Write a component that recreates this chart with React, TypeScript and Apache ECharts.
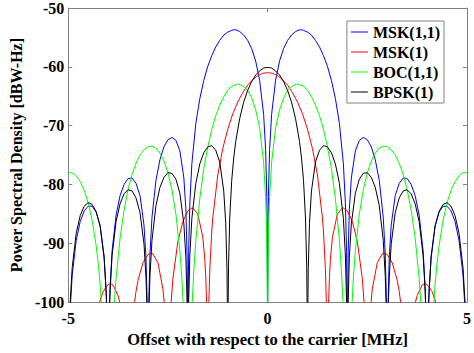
import React, { useEffect, useRef } from "react";
import * as echarts from "echarts";

const seriesNames = ["MSK(1,1)", "MSK(1)", "BOC(1,1)", "BPSK(1)"];
const seriesColors = ["#0000ff", "#ff0000", "#00ff00", "#000000"];
const xTitle = "Offset with respect to the carrier [MHz]";
const yTitle = "Power Spectral Density [dBW-Hz]";

// [offset MHz, PSD dBW-Hz]; -130 marks a null below the plotted range
const msk11: [number, number][] = [
  [-5, -130], [-4.94, -100], [-4.9, -95.4], [-4.8, -89.5], [-4.7, -86.3], [-4.6, -84.5], [-4.5, -83.7], [-4.4, -83.7], [-4.3, -84.7], [-4.2, -87.0], [-4.1, -92.2], [-4.05, -97.9], [-4.039, -100], [-4, -130],
  [-3.962, -100], [-3.95, -97.4], [-3.9, -91.3], [-3.8, -85.2], [-3.7, -81.9], [-3.6, -80.0], [-3.5, -79.0], [-3.4, -78.9], [-3.3, -79.8], [-3.2, -81.9], [-3.1, -86.9], [-3.05, -92.5], [-3.021, -100], [-3, -130],
  [-2.98, -100], [-2.95, -91.8], [-2.9, -85.6], [-2.8, -79.3], [-2.7, -75.8], [-2.6, -73.6], [-2.5, -72.4], [-2.4, -72.0], [-2.3, -72.5], [-2.2, -74.3], [-2.1, -78.9], [-2.05, -84.2], [-2.02, -91.8], [-2.008, -100], [-2, -130],
  [-1.992, -100], [-1.98, -91.4], [-1.95, -83.1], [-1.9, -76.5], [-1.8, -69.6], [-1.7, -65.4], [-1.6, -62.3], [-1.5, -59.9], [-1.4, -58.1], [-1.3, -56.6], [-1.2, -55.5], [-1.1, -54.6], [-1.0, -54.1], [-0.9, -53.8], [-0.85, -53.7], [-0.8, -53.7], [-0.7, -54.0], [-0.6, -54.6], [-0.5, -55.5], [-0.4, -56.9], [-0.3, -59.0], [-0.2, -62.3], [-0.1, -68.1], [-0.05, -74.1], [-0.02, -82.0], [-0.01, -88.1], [-0.003, -100],
  [0, -130],
  [0.003, -100], [0.01, -88.1], [0.02, -82.0], [0.05, -74.1], [0.1, -68.1], [0.2, -62.3], [0.3, -59.0], [0.4, -56.9], [0.5, -55.5], [0.6, -54.6], [0.7, -54.0], [0.8, -53.7], [0.85, -53.7], [0.9, -53.8], [1.0, -54.1], [1.1, -54.6], [1.2, -55.5], [1.3, -56.6], [1.4, -58.1], [1.5, -59.9], [1.6, -62.3], [1.7, -65.4], [1.8, -69.6], [1.9, -76.5], [1.95, -83.1], [1.98, -91.4], [1.992, -100],
  [2, -130], [2.008, -100], [2.02, -91.8], [2.05, -84.2], [2.1, -78.9], [2.2, -74.3], [2.3, -72.5], [2.4, -72.0], [2.5, -72.4], [2.6, -73.6], [2.7, -75.8], [2.8, -79.3], [2.9, -85.6], [2.95, -91.8], [2.98, -100],
  [3, -130], [3.021, -100], [3.05, -92.5], [3.1, -86.9], [3.2, -81.9], [3.3, -79.8], [3.4, -78.9], [3.5, -79.0], [3.6, -80.0], [3.7, -81.9], [3.8, -85.2], [3.9, -91.3], [3.95, -97.4], [3.962, -100],
  [4, -130], [4.039, -100], [4.05, -97.9], [4.1, -92.2], [4.2, -87.0], [4.3, -84.7], [4.4, -83.7], [4.5, -83.7], [4.6, -84.5], [4.7, -86.3], [4.8, -89.5], [4.9, -95.4], [4.94, -100], [5, -130],
];

const msk1: [number, number][] = [
  [-5, -100.9], [-4.5, -130],
  [-4.213, -100], [-4.125, -98.2], [-4.0, -97.0], [-3.925, -96.9], [-3.875, -97.1], [-3.75, -98.9], [-3.708, -100], [-3.5, -130],
  [-3.336, -100], [-3.3, -98.2], [-3.25, -96.3], [-3.125, -93.3], [-3.0, -91.9], [-2.925, -91.7], [-2.875, -91.8], [-2.75, -93.3], [-2.625, -97.8], [-2.594, -100], [-2.5, -130],
  [-2.419, -100], [-2.375, -96.0], [-2.25, -89.7], [-2.125, -86.3], [-2.0, -84.5], [-1.9, -84.0], [-1.875, -84.0], [-1.75, -85.0], [-1.625, -89.0], [-1.575, -92.7], [-1.55, -95.8], [-1.53, -100], [-1.5, -130],
  [-1.473, -100], [-1.45, -94.5], [-1.4, -87.9], [-1.375, -85.7], [-1.25, -78.4], [-1.125, -73.9], [-1.0, -70.6], [-0.875, -68.0], [-0.75, -66.0], [-0.625, -64.4], [-0.5, -63.1], [-0.375, -62.2], [-0.25, -61.5], [-0.125, -61.1],
  [0, -61.0],
  [0.125, -61.1], [0.25, -61.5], [0.375, -62.2], [0.5, -63.1], [0.625, -64.4], [0.75, -66.0], [0.875, -68.0], [1.0, -70.6], [1.125, -73.9], [1.25, -78.4], [1.375, -85.7], [1.4, -87.9], [1.45, -94.5], [1.473, -100],
  [1.5, -130], [1.53, -100], [1.55, -95.8], [1.575, -92.7], [1.625, -89.0], [1.75, -85.0], [1.875, -84.0], [1.9, -84.0], [2.0, -84.5], [2.125, -86.3], [2.25, -89.7], [2.375, -96.0], [2.419, -100],
  [2.5, -130], [2.594, -100], [2.625, -97.8], [2.75, -93.3], [2.875, -91.8], [2.925, -91.7], [3.0, -91.9], [3.125, -93.3], [3.25, -96.3], [3.3, -98.2], [3.336, -100],
  [3.5, -130], [3.708, -100], [3.75, -98.9], [3.875, -97.1], [3.925, -96.9], [4.0, -97.0], [4.125, -98.2], [4.213, -100],
  [4.5, -130], [5, -100.9],
];

const boc11: [number, number][] = [
  [-5, -78.0], [-4.9, -78.0], [-4.8, -78.5], [-4.7, -79.5], [-4.6, -81.0], [-4.5, -83.1], [-4.4, -86.1], [-4.3, -90.4], [-4.25, -93.3], [-4.2, -96.9], [-4.17, -100], [-4, -130],
  [-3.84, -100], [-3.82, -97.8], [-3.8, -96.0], [-3.7, -89.1], [-3.6, -84.4], [-3.5, -80.9], [-3.4, -78.3], [-3.3, -76.4], [-3.2, -75.0], [-3.1, -74.1], [-3.0, -73.6], [-2.9, -73.5], [-2.8, -73.8], [-2.7, -74.7], [-2.6, -76.0], [-2.5, -78.0], [-2.4, -80.9], [-2.3, -85.0], [-2.2, -91.3], [-2.15, -95.9], [-2.12, -100], [-2, -130],
  [-1.89, -100], [-1.87, -97.2], [-1.85, -94.6], [-1.8, -89.5], [-1.7, -82.4], [-1.6, -77.3], [-1.5, -73.6], [-1.4, -70.6], [-1.3, -68.3], [-1.2, -66.5], [-1.1, -65.1], [-1.0, -64.0], [-0.9, -63.3], [-0.75, -62.9], [-0.6, -63.3], [-0.5, -64.0], [-0.4, -65.3], [-0.3, -67.3], [-0.2, -70.4], [-0.1, -76.3], [-0.05, -82.2], [-0.035, -85.3], [-0.02, -90.2], [-0.006, -100],
  [0, -130],
  [0.006, -100], [0.02, -90.2], [0.035, -85.3], [0.05, -82.2], [0.1, -76.3], [0.2, -70.4], [0.3, -67.3], [0.4, -65.3], [0.5, -64.0], [0.6, -63.3], [0.75, -62.9], [0.9, -63.3], [1.0, -64.0], [1.1, -65.1], [1.2, -66.5], [1.3, -68.3], [1.4, -70.6], [1.5, -73.6], [1.6, -77.3], [1.7, -82.4], [1.8, -89.5], [1.85, -94.6], [1.87, -97.2], [1.89, -100],
  [2, -130], [2.12, -100], [2.15, -95.9], [2.2, -91.3], [2.3, -85.0], [2.4, -80.9], [2.5, -78.0], [2.6, -76.0], [2.7, -74.7], [2.8, -73.8], [2.9, -73.5], [3.0, -73.6], [3.1, -74.1], [3.2, -75.0], [3.3, -76.4], [3.4, -78.3], [3.5, -80.9], [3.6, -84.4], [3.7, -89.1], [3.8, -96.0], [3.82, -97.8], [3.84, -100],
  [4, -130], [4.17, -100], [4.2, -96.9], [4.25, -93.3], [4.3, -90.4], [4.4, -86.1], [4.5, -83.1], [4.6, -81.0], [4.7, -79.5], [4.8, -78.5], [4.9, -78.0], [5, -78.0],
];

const bpsk1: [number, number][] = [
  [-5, -130], [-4.95, -100], [-4.9, -94.1], [-4.8, -88.3], [-4.7, -85.3], [-4.6, -83.7], [-4.5, -83.1], [-4.4, -83.4], [-4.3, -84.6], [-4.2, -87.1], [-4.1, -92.5], [-4.05, -98.3], [-4.04, -100], [-4, -130],
  [-3.96, -100], [-3.95, -98.1], [-3.9, -92.1], [-3.8, -86.3], [-3.7, -83.3], [-3.6, -81.6], [-3.5, -80.9], [-3.4, -81.1], [-3.3, -82.3], [-3.2, -84.8], [-3.1, -90.1], [-3.05, -95.8], [-3.03, -100], [-3, -130],
  [-2.97, -100], [-2.95, -95.6], [-2.9, -89.5], [-2.8, -83.6], [-2.7, -80.5], [-2.6, -78.8], [-2.5, -78.0], [-2.4, -78.1], [-2.3, -79.1], [-2.2, -81.5], [-2.1, -86.7], [-2.05, -92.4], [-2.02, -100], [-2, -130],
  [-1.98, -100], [-1.95, -92.0], [-1.9, -85.8], [-1.8, -79.8], [-1.7, -76.5], [-1.6, -74.6], [-1.5, -73.6], [-1.4, -73.4], [-1.3, -74.2], [-1.2, -76.2], [-1.1, -81.1], [-1.05, -86.6], [-1.02, -94.3], [-1.01, -100], [-1, -130],
  [-0.99, -100], [-0.98, -93.9], [-0.95, -85.7], [-0.9, -79.3], [-0.85, -75.5], [-0.8, -72.7], [-0.7, -68.8], [-0.6, -66.0], [-0.5, -64.0], [-0.4, -62.5], [-0.3, -61.4], [-0.2, -60.7], [-0.1, -60.2],
  [0, -60.1],
  [0.1, -60.2], [0.2, -60.7], [0.3, -61.4], [0.4, -62.5], [0.5, -64.0], [0.6, -66.0], [0.7, -68.8], [0.8, -72.7], [0.85, -75.5], [0.9, -79.3], [0.95, -85.7], [0.98, -93.9], [0.99, -100],
  [1, -130], [1.01, -100], [1.02, -94.3], [1.05, -86.6], [1.1, -81.1], [1.2, -76.2], [1.3, -74.2], [1.4, -73.4], [1.5, -73.6], [1.6, -74.6], [1.7, -76.5], [1.8, -79.8], [1.9, -85.8], [1.95, -92.0], [1.98, -100],
  [2, -130], [2.02, -100], [2.05, -92.4], [2.1, -86.7], [2.2, -81.5], [2.3, -79.1], [2.4, -78.1], [2.5, -78.0], [2.6, -78.8], [2.7, -80.5], [2.8, -83.6], [2.9, -89.5], [2.95, -95.6], [2.97, -100],
  [3, -130], [3.03, -100], [3.05, -95.8], [3.1, -90.1], [3.2, -84.8], [3.3, -82.3], [3.4, -81.1], [3.5, -80.9], [3.6, -81.6], [3.7, -83.3], [3.8, -86.3], [3.9, -92.1], [3.95, -98.1], [3.96, -100],
  [4, -130], [4.04, -100], [4.05, -98.3], [4.1, -92.5], [4.2, -87.1], [4.3, -84.6], [4.4, -83.4], [4.5, -83.1], [4.6, -83.7], [4.7, -85.3], [4.8, -88.3], [4.9, -94.1], [4.95, -100], [5, -130],
];

const seriesData = [msk11, msk1, boc11, bpsk1];

const FONT = '"Liberation Serif", "Times New Roman", serif';
const AXIS_GRAY = "#808080";

export default function App() {
  const ref = useRef<HTMLDivElement>(null);
  useEffect(() => {
    if (!ref.current) return;
    const chart = echarts.init(ref.current, null, { renderer: "svg" });
    const textBold = { fontFamily: FONT, fontWeight: "bold" as const, fontSize: 16, color: "#000" };
    const axisCommon = {
      axisLine: { show: true, onZero: false, lineStyle: { color: AXIS_GRAY, width: 1 } },
      axisTick: { show: true, inside: true, length: 4, lineStyle: { color: AXIS_GRAY } },
      splitLine: { show: false },
    };
    chart.setOption({
      animation: false,
      backgroundColor: "#fff",
      grid: { left: 54, right: 7, top: 8, bottom: 40, containLabel: false },
      legend: {
        orient: "vertical",
        right: 30,
        top: 21,
        data: seriesNames,
        icon: "rect",
        itemWidth: 17,
        itemHeight: 1,
        itemGap: 4,
        padding: [3, 4, 3, 4],
        backgroundColor: "#fff",
        borderColor: AXIS_GRAY,
        borderWidth: 1,
        textStyle: { ...textBold, lineHeight: 16 },
      },
      xAxis: [
        {
          type: "value", min: -5, max: 5, interval: 5, position: "bottom",
          ...axisCommon,
          axisLabel: { ...textBold, margin: 8 },
          name: xTitle, nameLocation: "middle", nameGap: 28,
          nameTextStyle: { ...textBold, fontSize: 16.5 },
        },
        {
          type: "value", min: -5, max: 5, interval: 5, position: "top",
          ...axisCommon,
          axisLabel: { show: false },
        },
      ],
      yAxis: [
        {
          type: "value", min: -100, max: -50, interval: 10, position: "left",
          ...axisCommon,
          axisLabel: { ...textBold, margin: 4 },
          name: yTitle, nameLocation: "middle", nameGap: 41,
          nameTextStyle: textBold,
        },
        {
          type: "value", min: -100, max: -50, interval: 10, position: "right",
          ...axisCommon,
          axisLabel: { show: false },
        },
      ],
      series: seriesNames.map((name, i) => ({
        name,
        type: "line",
        data: seriesData[i],
        xAxisIndex: 0,
        yAxisIndex: 0,
        showSymbol: false,
        symbol: "none",
        clip: true,
        smooth: false,
        color: seriesColors[i],
        lineStyle: { color: seriesColors[i], width: 1 },
      })),
    });
    return () => chart.dispose();
  }, []);
  return (
    <div
      ref={ref}
      style={{ position: "fixed", left: 0, top: 0, width: 474, height: 353, background: "#fff" }}
    />
  );
}
